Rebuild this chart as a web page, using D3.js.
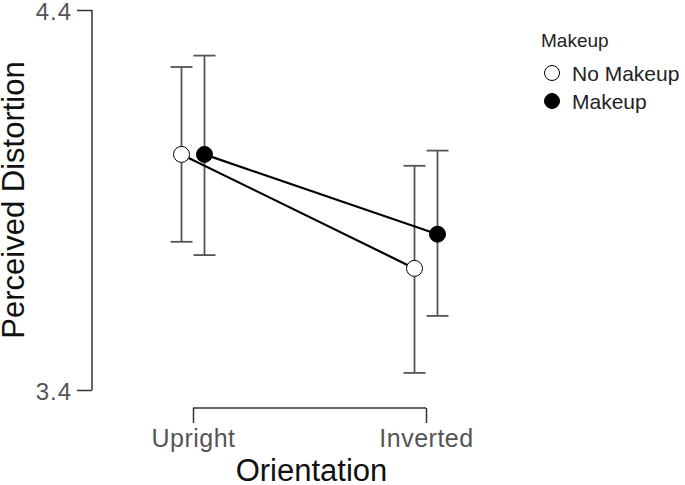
<!DOCTYPE html>
<html>
<head>
<meta charset="utf-8">
<script src="https://cdn.jsdelivr.net/npm/d3@7"></script>
<style>
  body { margin: 0; background: #fff; }
  svg { font-family: "Liberation Sans", Arial, sans-serif; }
</style>
</head>
<body>
<div id="chart"></div>
<script>
// categories and series
const orientations = ["Upright", "Inverted"];
const groups = ["No Makeup", "Makeup"];
const means = {
  "No Makeup": [4.02, 3.72],
  "Makeup": [4.02, 3.81]
};
const upper = {
  "No Makeup": [4.25, 3.99],
  "Makeup": [4.28, 4.03]
};
const lower = {
  "No Makeup": [3.79, 3.445],
  "Makeup": [3.755, 3.595]
};
const yTicks = [3.4, 4.4];

(function () {
  const width = 685, height = 485;
  const svg = d3.select("#chart").append("svg")
    .attr("width", width)
    .attr("height", height);

  // scales
  const y = d3.scaleLinear().domain([3.4, 4.4]).range([390, 10]);
  const x = d3.scalePoint().domain(orientations).range([193, 426]);
  const dodge = d3.scalePoint().domain(groups).range([-11.5, 11.5]);
  const fill = d3.scaleOrdinal().domain(groups).range(["#fff", "#000"]);

  // y axis
  const yAxis = svg.append("g")
    .attr("transform", "translate(92,0)")
    .call(d3.axisLeft(y).tickValues(yTicks).tickSize(15).tickSizeOuter(0).tickPadding(5).tickFormat(d3.format(".1f")));
  yAxis.select(".domain").attr("stroke", "#333").attr("stroke-width", 1.5).attr("d", `M0,${y(3.4)}V${y(4.4)}`);
  yAxis.selectAll(".tick line").attr("stroke", "#333").attr("stroke-width", 1.5);
  yAxis.selectAll(".tick text").attr("fill", "#555").attr("font-size", 24)
    .attr("dy", "0.4em").attr("letter-spacing", 1)
    .attr("font-family", "Liberation Sans, Arial, sans-serif");

  // x axis (bracket style)
  const xAxis = svg.append("g")
    .attr("transform", "translate(0,408)")
    .call(d3.axisBottom(x).tickSize(15).tickSizeOuter(0).tickPadding(6));
  xAxis.select(".domain").attr("stroke", "#333").attr("stroke-width", 1.5)
    .attr("d", `M${x("Upright")},0H${x("Inverted")}`);
  xAxis.selectAll(".tick line").attr("stroke", "#333").attr("stroke-width", 1.5);
  xAxis.selectAll(".tick text").attr("fill", "#555").attr("font-size", 25)
    .attr("letter-spacing", 0.5)
    .attr("font-family", "Liberation Sans, Arial, sans-serif");

  // axis titles
  svg.append("text")
    .attr("x", (x("Upright") + x("Inverted")) / 2 + 2)
    .attr("y", 481)
    .attr("text-anchor", "middle")
    .attr("font-size", 31)
    .attr("fill", "#111")
    .text("Orientation");
  svg.append("text")
    .attr("transform", `translate(24,200) rotate(-90)`)
    .attr("text-anchor", "middle")
    .attr("font-size", 31)
    .attr("fill", "#111")
    .text("Perceived Distortion");

  // error bars
  const capW = 11;
  groups.forEach(g => {
    const eb = svg.append("g").attr("stroke", "#555").attr("stroke-width", 1.8);
    orientations.forEach((o, i) => {
      const cx = x(o) + dodge(g);
      eb.append("line").attr("x1", cx).attr("x2", cx).attr("y1", y(upper[g][i])).attr("y2", y(lower[g][i]));
      eb.append("line").attr("x1", cx - capW).attr("x2", cx + capW).attr("y1", y(upper[g][i])).attr("y2", y(upper[g][i]));
      eb.append("line").attr("x1", cx - capW).attr("x2", cx + capW).attr("y1", y(lower[g][i])).attr("y2", y(lower[g][i]));
    });
  });

  // lines
  const line = d3.line()
    .x(d => x(d.o) + dodge(d.g))
    .y(d => y(d.v));
  groups.forEach(g => {
    const pts = orientations.map((o, i) => ({ o: o, g: g, v: means[g][i] }));
    svg.append("path")
      .datum(pts)
      .attr("d", line)
      .attr("fill", "none")
      .attr("stroke", "#000")
      .attr("stroke-width", 2.2);
  });

  // points
  groups.forEach(g => {
    svg.append("g").selectAll("circle")
      .data(orientations.map((o, i) => ({ o: o, v: means[g][i] })))
      .join("circle")
      .attr("cx", d => x(d.o) + dodge(g))
      .attr("cy", d => y(d.v))
      .attr("r", 8)
      .attr("fill", fill(g))
      .attr("stroke", "#000")
      .attr("stroke-width", 1);
  });

  // legend
  const legend = svg.append("g").attr("transform", "translate(541,0)");
  legend.append("text")
    .attr("x", 0).attr("y", 47)
    .attr("font-size", 19)
    .attr("fill", "#222")
    .text("Makeup");
  groups.forEach((g, i) => {
    const ly = 73 + i * 28;
    legend.append("circle")
      .attr("cx", 11).attr("cy", ly).attr("r", 7.5)
      .attr("fill", fill(g)).attr("stroke", "#000").attr("stroke-width", 1);
    legend.append("text")
      .attr("x", 31).attr("y", ly + 7.5)
      .attr("font-size", 21)
      .attr("fill", "#222")
      .text(g);
  });
})();
</script>
</body>
</html>
